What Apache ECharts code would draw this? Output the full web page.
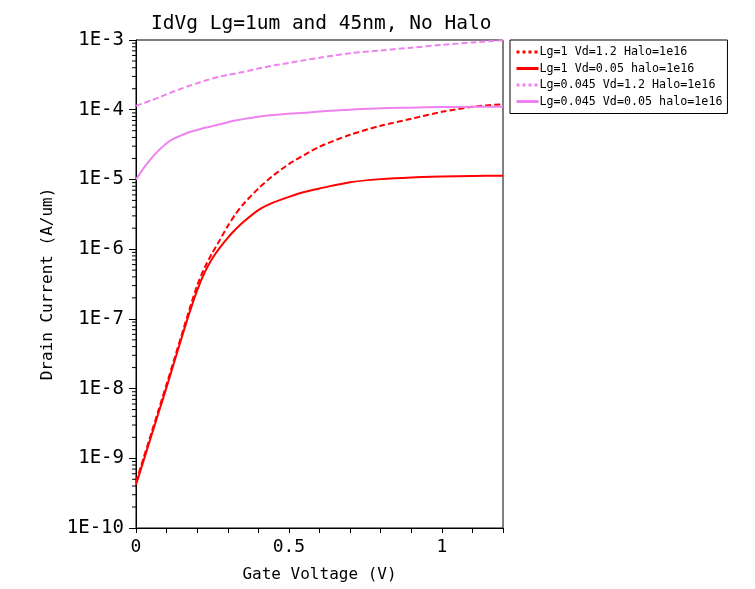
<!DOCTYPE html>
<html lang="en">
<head>
<meta charset="utf-8">
<script src="https://cdn.jsdelivr.net/npm/echarts@6/dist/echarts.min.js"></script>
<style>
    html,body{margin:0;padding:0;background:#fff;}
    #chart{width:755px;height:589px;}
</style>
</head>
<body>
<div id="chart"></div>
<script>
    // gate voltage (V)
    var vGate = [0, 0.025, 0.05, 0.075, 0.1, 0.125, 0.15, 0.175, 0.2, 0.225, 0.25, 0.275, 0.3,
                 0.325, 0.35, 0.4, 0.45, 0.5, 0.55, 0.6, 0.7, 0.8, 0.9, 1.0, 1.1, 1.2];

    // drain current (A/um)
    var lg1Vd12 = [4.57e-10, 1.02e-9, 2.29e-9, 5.13e-9, 1.15e-8, 2.63e-8, 6.03e-8, 1.38e-7, 3.02e-7,
                   5.50e-7, 8.91e-7, 1.38e-6, 2.14e-6, 3.16e-6, 4.37e-6, 7.41e-6, 1.15e-5, 1.66e-5,
                   2.24e-5, 2.95e-5, 4.37e-5, 5.89e-5, 7.41e-5, 9.33e-5, 1.10e-4, 1.20e-4];
    var lg1Vd005 = [4.17e-10, 9.33e-10, 2.09e-9, 4.68e-9, 1.05e-8, 2.40e-8, 5.50e-8, 1.23e-7, 2.57e-7,
                    4.68e-7, 7.41e-7, 1.06e-6, 1.45e-6, 1.91e-6, 2.43e-6, 3.63e-6, 4.68e-6, 5.62e-6,
                    6.61e-6, 7.41e-6, 9.12e-6, 1.01e-5, 1.07e-5, 1.10e-5, 1.12e-5, 1.13e-5];
    var lg045Vd12 = [1.135e-4, 1.245e-4, 1.365e-4, 1.50e-4, 1.66e-4, 1.84e-4, 2.02e-4, 2.21e-4, 2.40e-4,
                     2.60e-4, 2.80e-4, 2.99e-4, 3.16e-4, 3.31e-4, 3.47e-4, 3.89e-4, 4.32e-4, 4.68e-4,
                     5.13e-4, 5.56e-4, 6.46e-4, 7.08e-4, 7.76e-4, 8.51e-4, 9.23e-4, 9.89e-4];
    var lg045Vd005 = [1.00e-5, 1.45e-5, 2.00e-5, 2.63e-5, 3.31e-5, 3.89e-5, 4.32e-5, 4.79e-5, 5.13e-5,
                      5.50e-5, 5.82e-5, 6.17e-5, 6.61e-5, 7.00e-5, 7.33e-5, 7.94e-5, 8.41e-5, 8.75e-5,
                      9.02e-5, 9.44e-5, 1.00e-4, 1.05e-4, 1.07e-4, 1.09e-4, 1.10e-4, 1.10e-4];

    var seriesNames = ['Lg=1 Vd=1.2 Halo=1e16', 'Lg=1 Vd=0.05 halo=1e16',
                       'Lg=0.045 Vd=1.2 Halo=1e16', 'Lg=0.045 Vd=0.05 halo=1e16'];

    // decades shown on the y axis (log10 of current)
    var decadeMin = -10, decadeMax = -3;
    // x tick labels that are shown
    var xLabels = ['0', '0.5', '1'];

    var mono = 'DejaVu Sans Mono';

    function toPairs(ys){
        return vGate.map(function(v, i){ return [v, Math.log10(ys[i])]; });
    }

    // minor ticks 2..9 inside each decade
    var minorTicks = [];
    for (var d = decadeMin; d < decadeMax; d++) {
        for (var k = 2; k <= 9; k++) minorTicks.push([0, d + Math.log10(k)]);
    }

    var chart = echarts.init(document.getElementById('chart'));

    function lineSeries(name, data, color, dashed){
        return {
            name: name,
            type: 'line',
            data: toPairs(data),
            showSymbol: false,
            symbol: 'none',
            smooth: 0.25,
            lineStyle: {color: color, width: 2, type: dashed ? [6, 3] : 'solid'},
            itemStyle: {color: color},
            z: 3
        };
    }

    function legendItem(i, dashed){
        return {name: seriesNames[i], lineStyle: {width: 3, type: dashed ? [3, 3] : 'solid'}};
    }

    chart.setOption({
        animation: false,
        backgroundColor: '#fff',
        title: {
            text: 'IdVg Lg=1um and 45nm, No Halo',
            left: 146,
            top: 9,
            textStyle: {fontFamily: mono, fontSize: 19.5, fontWeight: 'normal', color: '#000'}
        },
        legend: {
            data: [legendItem(0, true), legendItem(1, false), legendItem(2, true), legendItem(3, false)],
            orient: 'vertical',
            left: 510,
            top: 40,
            padding: [6, 5, 6, 5],
            itemGap: 4.5,
            itemWidth: 22,
            itemHeight: 14,
            itemStyle: {opacity: 0},
            borderColor: '#000',
            borderWidth: 1,
            textStyle: {fontFamily: mono, fontSize: 11.7, color: '#000', padding: [0, 0, 0, -4]}
        },
        grid: {
            left: 136,
            top: 40,
            right: 252,
            bottom: 61,
            show: true,
            borderColor: '#000',
            borderWidth: 1,
            backgroundColor: 'transparent'
        },
        xAxis: {
            type: 'value',
            min: 0,
            max: 1.2,
            interval: 0.1,
            name: 'Gate Voltage (V)',
            nameLocation: 'middle',
            nameGap: 39,
            nameTextStyle: {fontFamily: mono, fontSize: 16, color: '#000'},
            axisLine: {show: true, lineStyle: {color: '#000', width: 1}},
            axisTick: {show: true, length: 5, lineStyle: {color: '#000'}},
            axisLabel: {
                fontFamily: mono, fontSize: 18, color: '#000', margin: 10,
                showMaxLabel: true,
                formatter: function(v){
                    var s = String(Math.round(v * 10) / 10);
                    return xLabels.indexOf(s) >= 0 ? s : '';
                }
            },
            splitLine: {show: false}
        },
        yAxis: {
            type: 'value',
            min: decadeMin,
            max: decadeMax,
            interval: 1,
            name: 'Drain Current (A/um)',
            nameLocation: 'middle',
            nameRotate: 90,
            nameGap: 80,
            nameTextStyle: {fontFamily: mono, fontSize: 16, color: '#000'},
            axisLine: {show: true, lineStyle: {color: '#000', width: 1}},
            axisTick: {show: true, length: 7, lineStyle: {color: '#000'}},
            axisLabel: {
                fontFamily: mono, fontSize: 19, color: '#000', margin: 12,
                formatter: function(v){ return '1E' + Math.round(v); }
            },
            splitLine: {show: false}
        },
        series: [
            lineSeries(seriesNames[0], lg1Vd12, '#ff0000', true),
            lineSeries(seriesNames[1], lg1Vd005, '#ff0000', false),
            lineSeries(seriesNames[2], lg045Vd12, '#ee82ee', true),
            lineSeries(seriesNames[3], lg045Vd005, '#ee82ee', false),
            {
                type: 'custom',
                name: 'minor',
                data: minorTicks,
                clip: false,
                silent: true,
                z: 4,
                renderItem: function(params, api){
                    var p = api.coord([api.value(0), api.value(1)]);
                    return {
                        type: 'line',
                        shape: {x1: p[0] - 4, y1: p[1], x2: p[0], y2: p[1]},
                        style: {stroke: '#000', lineWidth: 1}
                    };
                }
            }
        ]
    });
</script>
</body>
</html>
